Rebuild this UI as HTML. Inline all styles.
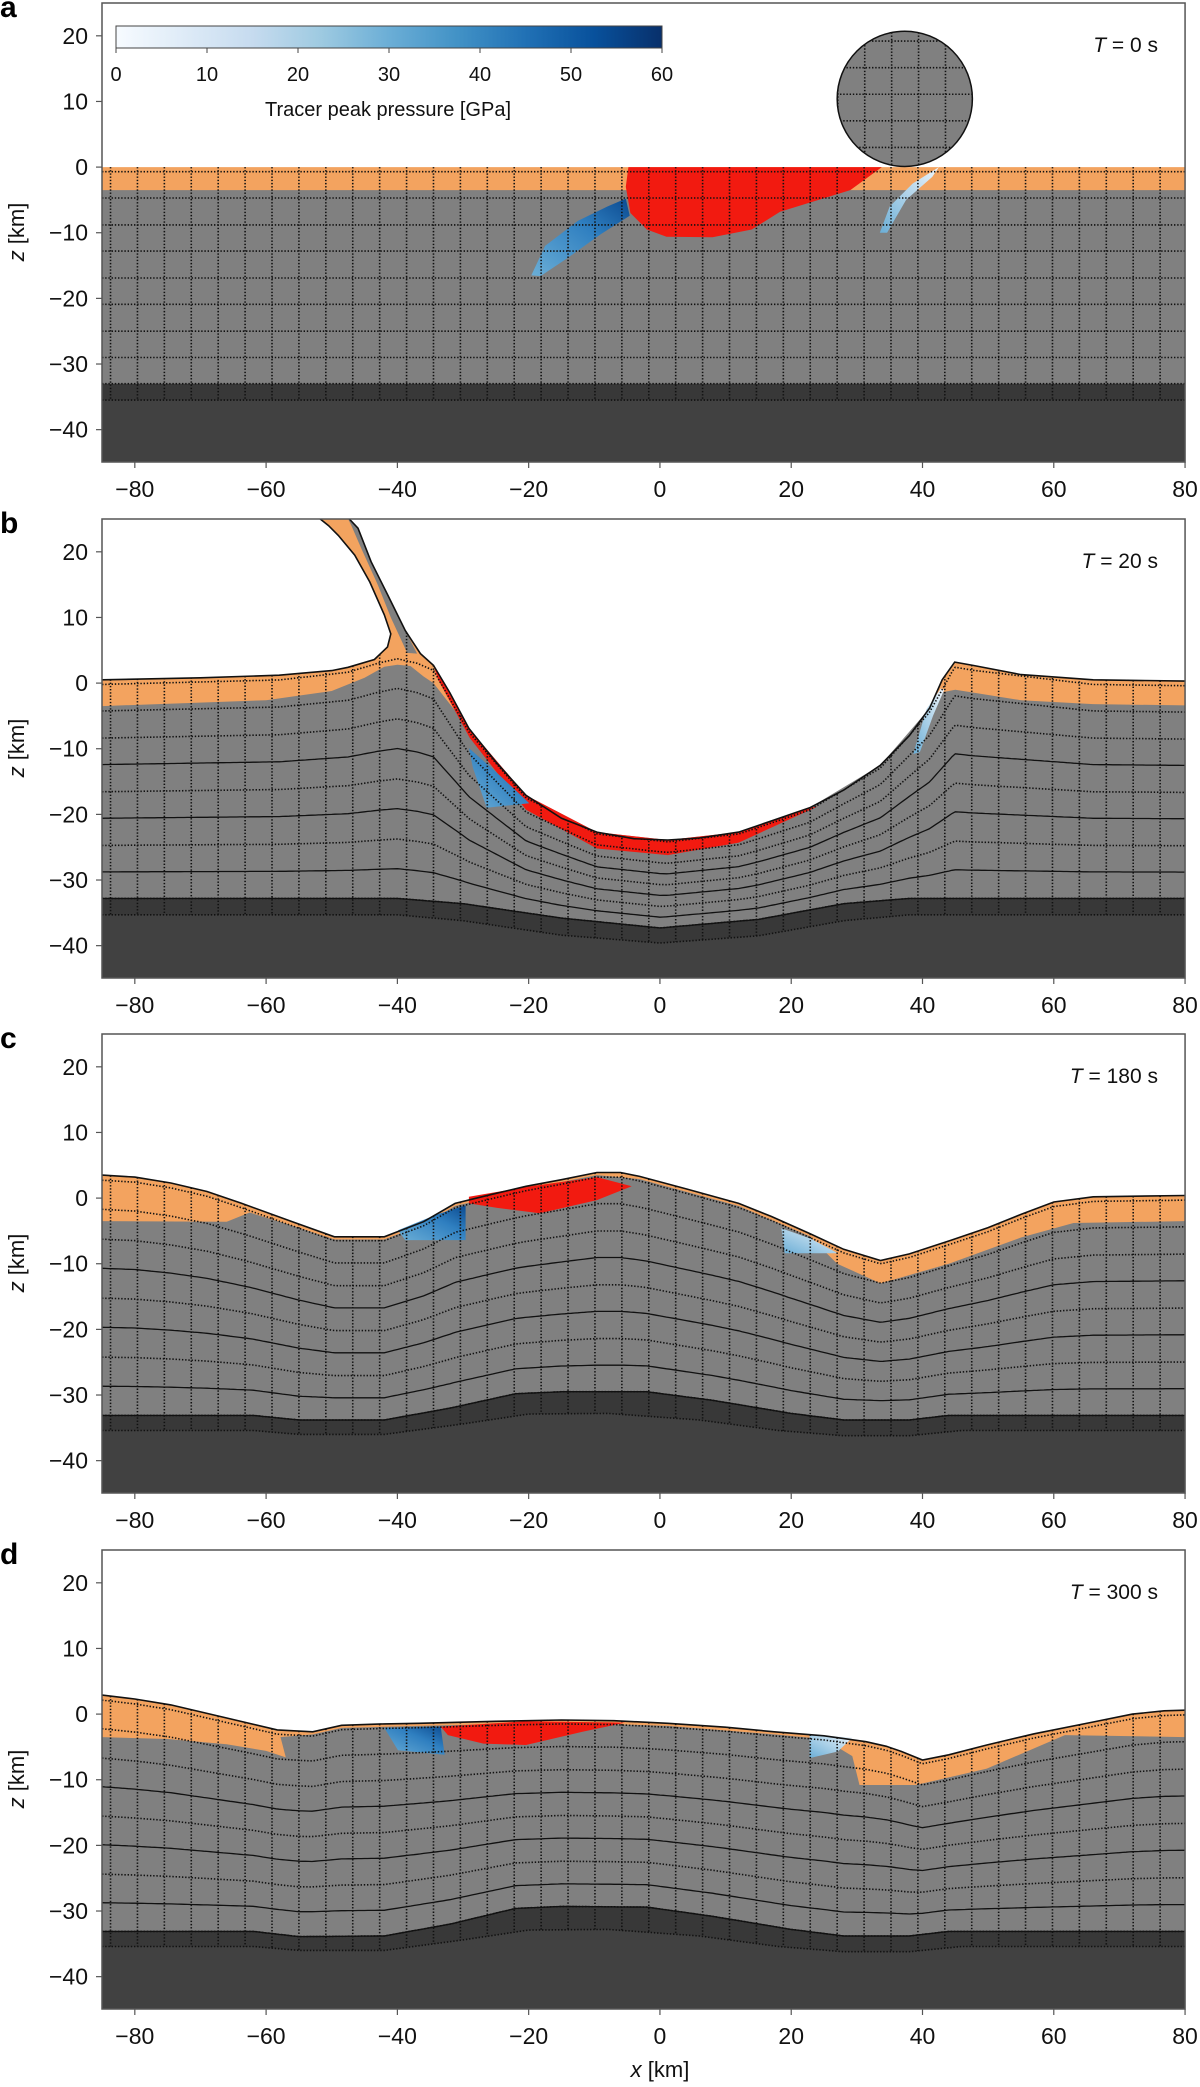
<!DOCTYPE html>
<html><head><meta charset="utf-8">
<style>
html,body{margin:0;padding:0;background:#fff;}
svg{display:block;font-family:"Liberation Sans",sans-serif;}
</style></head>
<body>
<svg id="fig" width="1200" height="2087" viewBox="0 0 1200 2087" xmlns="http://www.w3.org/2000/svg">
<defs>
<linearGradient id="blues" x1="0" x2="1" y1="0" y2="0">
<stop offset="0" stop-color="#f7fbff"/><stop offset="0.125" stop-color="#deebf7"/><stop offset="0.25" stop-color="#c6dbef"/><stop offset="0.375" stop-color="#9ecae1"/><stop offset="0.5" stop-color="#6baed6"/><stop offset="0.625" stop-color="#4292c6"/><stop offset="0.75" stop-color="#2171b5"/><stop offset="0.875" stop-color="#08519c"/><stop offset="1" stop-color="#08306b"/>
</linearGradient>
<linearGradient id="blueA" x1="0" x2="1" y1="1" y2="0"><stop offset="0" stop-color="#6baed6"/><stop offset="0.6" stop-color="#2f7fc0"/><stop offset="1" stop-color="#0b4a90"/></linearGradient>
<linearGradient id="blueL" x1="0" x2="1" y1="1" y2="0"><stop offset="0" stop-color="#6baed6"/><stop offset="1" stop-color="#eef5fb"/></linearGradient>
</defs>
</svg>
<script>
// ---------- data (km) ----------
const xTicks = [-80,-60,-40,-20,0,20,40,60,80];
const zTicks = [20,10,0,-10,-20,-30,-40];
const cbTicks = [0,10,20,30,40,50,60];
const panelLetters = ['a','b','c','d'];
const timeLabels = ['0','20','180','300'];
const gridLevels = [-0.7,-4.7,-8.8,-12.8,-16.9,-20.9,-25,-29];

// panel a
const surfA = [[-85,0],[80,0]];
const baseA = [[-85,-3.5],[80,-3.5]];
const mohoTopA = [[-85,-33],[80,-33]];
const mohoBotA = [[-85,-35.5],[80,-35.5]];
const redA = [[-4.8,0],[33.8,0],[29,-3.5],[18.3,-6.8],[14,-9.5],[8,-10.7],[1,-10.6],[-2,-9.5],[-4.5,-7],[-5.2,-3]];
const blueA = [[-19.6,-16.5],[-17.5,-12],[-12.5,-8.2],[-8,-6],[-5.2,-4.8],[-4.6,-7.4],[-9,-10.2],[-14,-13.8],[-18.2,-16.6]];
const lblueA = [[33.5,-10],[35,-6],[38.5,-2.5],[42.5,0],[41.5,-1.5],[37.5,-5],[34.6,-10]];
const impactor = [37.3,10.4,10.3];

// panel b
const surfB = [[-85,0.5],[-70,0.8],[-58,1.2],[-50,1.9],[-47.5,2.4],[-43.5,3.6],[-41.5,5.5],[-41,7.5],[-42,10.4],[-44.2,15.4],[-46.5,19.5],[-49,22.5],[-50.5,24],[-52,25.2],[-47.5,25.2],[-46,23.6],[-44,18.5],[-41.5,13.5],[-38.8,8],[-36.5,4.5],[-34.5,2.7],[-32,-1.5],[-29.1,-6.9],[-25,-12],[-20.4,-17.1],[-15,-20.6],[-9.6,-22.7],[-4,-23.7],[1.2,-23.9],[6,-23.6],[12,-22.7],[17,-21],[22.8,-19],[28,-16.3],[33.6,-12.5],[38,-8],[41.1,-3.8],[43,0.5],[44.9,3.2],[47.7,2.7],[55,1.3],[66,0.5],[80,0.3]];
const topB = [[-85,0.5],[-58,1.2],[-47.5,2.4],[-43,3.8],[-40,4.5],[-37,3.8],[-34.5,2.7],[-29.1,-6.9],[-20.4,-17.1],[-9.6,-22.7],[1.2,-23.9],[12,-22.7],[22.8,-19],[33.6,-12.5],[41.1,-3.8],[44.9,3.2],[47.7,2.7],[66,0.5],[80,0.3]];
const baseB = [[-85,-3.5],[-60,-2.6],[-50,-1.2],[-45,0.8],[-42,2.5],[-40,2.8],[-38,2.6],[-36,1],[-34.5,0],[-29.1,-6.9],[-20.4,-17.1],[-9.6,-22.7],[1.2,-23.9],[12,-22.7],[22.8,-19],[33.6,-12.5],[40.5,-4.5],[42.5,-1.5],[45,-1],[48,-1.5],[55,-2.6],[66,-3.2],[80,-3.4]];
const mohoTopB = [[-85,-32.8],[-40,-32.8],[-30,-33.6],[-15,-35.8],[0,-37.3],[15,-36],[28,-33.6],[38,-32.8],[80,-32.8]];
const mohoBotB = [[-85,-35.3],[-40,-35.3],[-30,-36.2],[-15,-38.4],[0,-39.6],[15,-38.5],[28,-36.2],[38,-35.3],[80,-35.3]];
const redB = [[-34.5,2.7],[-29.1,-6.9],[-20.4,-17.1],[-9.6,-22.7],[1.2,-23.9],[12,-22.7],[22.8,-19],[24,-18.8],[12,-24.3],[1.2,-26.2],[-9.6,-25.2],[-20.4,-19.3],[-29,-8.3],[-33.8,0.5]];
const blueB = [[-29.1,-9.9],[-25,-13.5],[-19.9,-18.3],[-26.4,-19],[-28.5,-12.9]];
const lblueB = [[42.8,-0.8],[40.6,-4],[38.6,-10.8],[39.6,-10.5],[41.6,-5],[43.3,-1]];

// panel c
const surfC = [[-85,3.5],[-80,3.2],[-74.5,2.3],[-69,1],[-63.7,-0.8],[-56,-3.6],[-49.6,-5.9],[-42,-5.9],[-36,-3.6],[-31.2,-0.8],[-25.5,0.6],[-20.4,1.8],[-15,2.8],[-9.6,3.9],[-6,3.9],[-3.1,3.3],[4,1.4],[12,-0.8],[17,-2.8],[22.8,-5.4],[28,-7.8],[33.6,-9.5],[38,-8.5],[44.4,-6.4],[50,-4.5],[55.2,-2.4],[60,-0.6],[66,0.2],[80,0.4]];
const baseC = [[-85,-3.5],[-66,-3.6],[-62.5,-2.2],[-56,-4.2],[-49.6,-6.3],[-42,-6.3],[-36,-4],[-31.2,-1.2],[-20.4,1.4],[-9.6,3.5],[-3.1,2.9],[12,-1.2],[22.8,-5.8],[27,-10],[33.6,-13],[44,-10],[55,-6],[63,-3.8],[80,-3.5]];
const mohoTopC = [[-85,-33.1],[-62,-33.1],[-55,-33.8],[-42,-33.8],[-32,-32],[-22,-29.8],[-15,-29.5],[-2,-29.5],[8,-30.8],[20,-32.8],[28,-33.8],[38,-33.8],[44,-33.1],[80,-33.1]];
const mohoBotC = [[-85,-35.4],[-62,-35.4],[-55,-36],[-42,-36],[-30,-34.4],[-20,-32.9],[-8,-32.8],[6,-33.8],[18,-35.4],[28,-36.2],[38,-36.2],[46,-35.4],[80,-35.4]];
const redC = [[-29.1,0.2],[-20.4,1.7],[-9.6,3.2],[-4.3,1.8],[-9.6,-0.3],[-18.3,-2.3],[-24.8,-1.5],[-29.1,-0.8]];
const blueC = [[-39.9,-4.9],[-34,-2.5],[-29.6,-1.1],[-29.6,-6.4],[-38.8,-6.4]];
const lblueC = [[18.5,-4.6],[23,-6.2],[27.1,-8.4],[19,-8.4]];

// panel d
const surfD = [[-85,2.9],[-80,2.3],[-74.5,1.4],[-66,-0.6],[-58.3,-2.4],[-52.9,-2.7],[-48.5,-1.7],[-42,-1.5],[-36.7,-1.4],[-25,-1.1],[-15,-0.9],[-7,-1],[1.2,-1.4],[10,-2],[17.4,-2.7],[25,-3.3],[31.4,-4.2],[34.5,-4.9],[36.8,-5.7],[40,-7],[44,-6.2],[49.8,-4.7],[57,-3],[66,-1.2],[72,0],[76.8,0.5],[80,0.6]];
const baseD = [[-85,-3.5],[-75,-3.8],[-66,-4.6],[-60,-5.6],[-57,-6.6],[-57.8,-3.5],[-52.9,-3.1],[-48.5,-2.1],[-36.7,-1.8],[-15,-1.3],[1.2,-1.8],[17.4,-3.1],[25,-3.8],[29.3,-6.4],[30.4,-10.8],[39,-10.8],[49.8,-8.3],[61.7,-3.2],[80,-3.5]];
const mohoTopD = [[-85,-33.1],[-62,-33.1],[-55,-33.9],[-42,-33.8],[-32,-32],[-22,-29.6],[-15,-29.3],[-2,-29.4],[8,-30.8],[20,-32.8],[28,-33.8],[38,-33.8],[44,-33.1],[80,-33.1]];
const mohoBotD = [[-85,-35.4],[-62,-35.4],[-55,-36],[-42,-36],[-30,-34.4],[-20,-32.9],[-8,-32.8],[6,-33.8],[18,-35.4],[28,-36.2],[38,-36.2],[46,-35.4],[80,-35.4]];
const redD = [[-33.4,-1.9],[-20.4,-1.1],[-5.3,-1.3],[-11.8,-2.7],[-20.4,-4.7],[-26.9,-4.5],[-32.3,-3.2]];
const blueD = [[-42,-2.1],[-33.4,-1.9],[-32.8,-6.2],[-39.9,-5.5]];
const lblueD = [[22.8,-3.1],[29.3,-3.6],[27.1,-5.7],[22.8,-6.7]];

// ---------- layout ----------
const NS='http://www.w3.org/2000/svg';
const svg=document.getElementById('fig');
const X0=102, K=6.564, PH=459;
const tops=[3,519,1034,1550];
function sx(x){return X0+(x+85)*K;}
function sz(z,t){return t+(25-z)*K;}
function el(tag,attrs,parent){const e=document.createElementNS(NS,tag);for(const k in attrs)e.setAttribute(k,attrs[k]);(parent||svg).appendChild(e);return e;}
function interp(arr,x){if(x<=arr[0][0])return arr[0][1];for(let i=1;i<arr.length;i++){if(x<=arr[i][0]){const a=arr[i-1],b=arr[i];return a[1]+(b[1]-a[1])*(x-a[0])/(b[0]-a[0]);}}return arr[arr.length-1][1];}
function poly(pts,t){return pts.map(p=>sx(p[0]).toFixed(1)+','+sz(p[1],t).toFixed(1)).join(' ');}
function lineToBottom(pts,t){return 'M'+sx(-86)+','+sz(pts[0][1],t)+' L'+pts.map(p=>sx(p[0]).toFixed(1)+','+sz(p[1],t).toFixed(1)).join(' L')+' L'+sx(81)+','+sz(pts[pts.length-1][1],t)+' L'+sx(81)+','+(t+PH+5)+' L'+sx(-86)+','+(t+PH+5)+'Z';}
function curvePath(fn,t){let d='';for(let x=-85;x<=80.01;x+=0.5){d+=(d?'L':'M')+sx(x).toFixed(1)+','+sz(fn(x),t).toFixed(1);}return d;}

const panels=[
 {surf:surfA,top:surfA,base:baseA,mt:mohoTopA,mb:mohoBotA,red:redA,blue:blueA,lblue:lblueA,solid:false},
 {surf:surfB,top:topB,base:baseB,mt:mohoTopB,mb:mohoBotB,red:redB,blue:blueB,lblue:lblueB,solid:true},
 {surf:surfC,top:surfC,base:baseC,mt:mohoTopC,mb:mohoBotC,red:redC,blue:blueC,lblue:lblueC,solid:true},
 {surf:surfD,top:surfD,base:baseD,mt:mohoTopD,mb:mohoBotD,red:redD,blue:blueD,lblue:lblueD,solid:true}
];
const dot={stroke:'#111','stroke-width':1.6,'stroke-dasharray':'1.4 1.8',fill:'none'};

panels.forEach((P,i)=>{
  const t=tops[i];
  const g=el('g',{});
  
  
  const cid='clip'+i, bid='body'+i;
  const cp=el('clipPath',{id:cid},g); el('rect',{x:X0,y:t,width:165*K,height:PH},cp);
  const bp=el('clipPath',{id:bid},g);
  el('path',{d:lineToBottom(P.surf,t)},bp);
  const inner=el('g',{'clip-path':'url(#'+cid+')'},g);
  const sp=el('path',{d:lineToBottom(P.surf,t),fill:'#f3a35f'},inner);
  
  
  const gp=el('path',{d:lineToBottom(P.base,t),fill:'#808080'},inner);
  
  
  if(i===1){
    el('polygon',{points:poly([[-47.5,25],[-46,23.6],[-44,18.5],[-41.5,13.5],[-38.8,8],[-37,4.5],[-38.5,4.6],[-41,10],[-43,15],[-45.5,20.5],[-47,24]],t),fill:'#808080'},inner);
  }
  const mt=el('path',{d:lineToBottom(P.mt,t),fill:'#383838'},inner);
  
  
  const mb=el('path',{d:lineToBottom(P.mb,t),fill:'#414141'},inner);
  
  
  const r=el('polygon',{points:poly(P.red,t),fill:'#f21a10'},inner);
  
  
  const b=el('polygon',{points:poly(P.blue,t),fill:'url(#blueA)'},inner);
  
  
  const lb=el('polygon',{points:poly(P.lblue,t),fill:'url(#blueL)'},inner);
  
  
  const gg=el('g',{'clip-path':'url(#'+bid+')'},inner);
  gridLevels.forEach((L,k)=>{
    const fn=x=>{const tp=interp(P.top,x),m=interp(P.mt,x);return m+(tp-m)*(L+33)/33;};
    const attrs=(P.solid&&k%2===1&&k>1)?{stroke:'#111','stroke-width':1.3,fill:'none'}:dot;
    const gl=el('path',Object.assign({d:curvePath(fn,t)},attrs),gg);
    
    
  });
  [P.mt,P.mb].forEach(a=>{el('path',Object.assign({d:curvePath(x=>interp(a,x),t)},dot),gg);});
  if(i>0) el('path',{d:curvePath(x=>interp(P.mt,x),t),stroke:'#111','stroke-width':1.4,fill:'none'},gg);
  for(let x=-83.7;x<80;x+=4.1){
    const z1=Math.max(interp(P.top,x),interp(P.surf,x))+1, z2=interp(P.mb,x);
    const vl=el('line',Object.assign({x1:sx(x),x2:sx(x),y1:sz(z1,t),y2:sz(z2,t)},dot),gg);
    
    
  }
  if(i>0){
    const so=el('polyline',{points:poly(P.surf,t),fill:'none',stroke:'#111','stroke-width':1.6},inner);
    
    
  }
  if(i===0){
    const ic=el('clipPath',{id:'imp'},g);
    el('circle',{cx:sx(impactor[0]),cy:sz(impactor[1],t),r:impactor[2]*K},ic);
    const c=el('circle',{cx:sx(impactor[0]),cy:sz(impactor[1],t),r:impactor[2]*K,fill:'#808080',stroke:'#111','stroke-width':1.5},inner);
    
    
    const ig=el('g',{'clip-path':'url(#imp)'},inner);
    for(let x=23;x<50;x+=4.1) el('line',Object.assign({x1:sx(x),x2:sx(x),y1:sz(22,t),y2:sz(0,t)},dot),ig);
    for(let z=19.2;z>0;z-=4.05) el('line',Object.assign({x1:sx(25),x2:sx(50),y1:sz(z,t),y2:sz(z,t)},dot),ig);
  }
  const fr=el('rect',{x:X0,y:t,width:165*K,height:PH,fill:'none',stroke:'#555','stroke-width':1.5},g);
  
  
  zTicks.forEach(z=>{
    el('line',{x1:X0-6,x2:X0,y1:sz(z,t),y2:sz(z,t),stroke:'#555','stroke-width':1.2},g);
    const tl=el('text',{x:X0-14,y:sz(z,t)+8,'text-anchor':'end','font-size':23,fill:'#111'},g);
    tl.textContent=(z<0?'\u2212':'')+Math.abs(z);
    
    
  });
  xTicks.forEach(x=>{
    el('line',{x1:sx(x),x2:sx(x),y1:t+PH,y2:t+PH+6,stroke:'#555','stroke-width':1.2},g);
    const tl=el('text',{x:sx(x),y:t+PH+35,'text-anchor':'middle','font-size':23,fill:'#111'},g);
    tl.textContent=(x<0?'\u2212':'')+Math.abs(x);
    
    
  });
  const yl=el('text',{transform:'translate(24,'+(t+229)+') rotate(-90)','text-anchor':'middle','font-size':22,fill:'#111'},g);
  yl.innerHTML='<tspan font-style="italic">z</tspan> [km]';
  
  
  const pl=el('text',{x:0,y:t+14,'font-size':30,'font-weight':'bold',fill:'#000'},g);
  pl.textContent=panelLetters[i];
  
  
  const tl=el('text',{x:1158,y:t+49,'text-anchor':'end','font-size':21,fill:'#111'},g);
  tl.innerHTML='<tspan font-style="italic">T</tspan> = '+timeLabels[i]+' s';
  
  
});

const cb=el('g',{});


const cx0=116,cx1=662;
el('rect',{x:cx0,y:26,width:cx1-cx0,height:22,fill:'url(#blues)',stroke:'#444','stroke-width':1},cb);
cbTicks.forEach(v=>{
  const x=cx0+(cx1-cx0)*v/60;
  el('line',{x1:x,x2:x,y1:48,y2:53,stroke:'#444','stroke-width':1},cb);
  const tt=el('text',{x:x,y:81,'text-anchor':'middle','font-size':20,fill:'#111'},cb);
  tt.textContent=v;
  
  
});
const ct=el('text',{x:388,y:116,'text-anchor':'middle','font-size':20,fill:'#111'},cb);
ct.textContent='Tracer peak pressure [GPa]';



const xl=el('text',{x:660,y:2077,'text-anchor':'middle','font-size':22,fill:'#111'});
xl.innerHTML='<tspan font-style="italic">x</tspan> [km]';


</script>
</body></html>
